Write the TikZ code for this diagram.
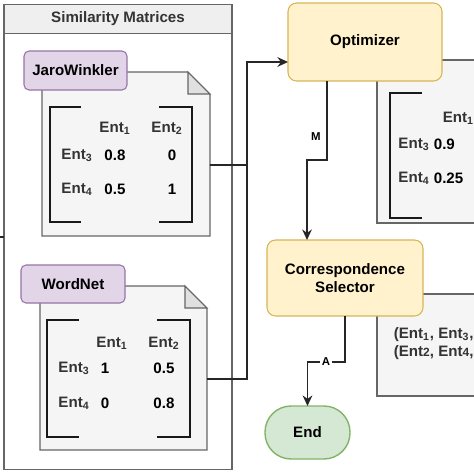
\documentclass[tikz,border=0pt]{standalone}
\usepackage{fontspec}
\setmainfont{Liberation Sans}
\usepackage{xcolor}
\usetikzlibrary{arrows.meta,positioning,calc}
\definecolor{simgray}{HTML}{666666}
\definecolor{simpanel}{HTML}{F5F5F5}
\definecolor{simhead}{HTML}{EFEFEF}
\definecolor{simfold}{HTML}{E0E0E0}
\definecolor{simpurple}{HTML}{E1D5E7}
\definecolor{simpurpleline}{HTML}{9673A6}
\definecolor{simyellow}{HTML}{FFF2CC}
\definecolor{simyellowline}{HTML}{D6B656}
\definecolor{simgreen}{HTML}{D5E8D4}
\definecolor{simgreenline}{HTML}{82B366}
\definecolor{simtext}{HTML}{333333}

\begin{document}
\begin{tikzpicture}[x=0.02cm, y=-0.02cm,
    every node/.style={font=\fontsize{8.6}{10.3}\selectfont\bfseries, outer sep=0pt},
    frame/.style={draw=simgray, line width=0.6pt},
    panel/.style={draw=simgray, fill=simpanel, line width=0.6pt},
    tag/.style={draw=simpurpleline, fill=simpurple, rounded corners=0.1cm, line width=0.6pt},
    stepbox/.style={draw=simyellowline, fill=simyellow, rounded corners=0.17cm, line width=0.6pt, align=center},
    term/.style={draw=simgreenline, fill=simgreen, line width=0.8pt},
    brack/.style={line width=1.6pt, black!90},
    ent/.style={text=simtext},
    link/.style={line width=0.8pt, black!85},
    flow/.style={link, -{Stealth[length=6pt,width=5.5pt]}},
    edgelabel/.style={font=\fontsize{6.5}{7}\selectfont\bfseries, fill=white, inner sep=1pt}]
    \useasboundingbox (0,0) rectangle (474,474);
    \clip (0,0) rectangle (474,474);

    % Container: Similarity Matrices
    \node[frame, fill=white, minimum width=4.56cm, minimum height=9.32cm] (simbox) at (118,237) {};
    \node[frame, fill=simhead, minimum width=4.56cm, minimum height=0.58cm, anchor=north, text=simtext] (simhead) at (simbox.north) {Similarity Matrices};

    % JaroWinkler document
    \node[minimum width=3.36cm, minimum height=3.28cm] (jwdoc) at (126,154) {};
    \draw[panel] (jwdoc.south west) -- (jwdoc.north west) -- ([xshift=-0.44cm]jwdoc.north east) -- ([yshift=-0.44cm]jwdoc.north east) -- (jwdoc.south east) -- cycle;
    \filldraw[frame, fill=simfold] ([xshift=-0.44cm]jwdoc.north east) -- ([xshift=-0.44cm,yshift=-0.44cm]jwdoc.north east) -- ([yshift=-0.44cm]jwdoc.north east) -- cycle;
    \node[tag, minimum width=2.06cm, minimum height=0.78cm] (jwtag) at (75.5,70.5) {JaroWinkler};

    \draw[brack] (81,107) -| (50,222) -- (81,222);
    \draw[brack] (159,107) -| (192,222) -- (159,222);
    \node[ent] (jwc1) at (115,128) {Ent\textsubscript{1}};
    \node[ent] (jwc2) at (167,128) {Ent\textsubscript{2}};
    \node[ent] (jwr3) at (77,155) {Ent\textsubscript{3}};
    \node[ent] (jwr4) at (77,189) {Ent\textsubscript{4}};
    \node (jw31) at (115,155) {0.8};
    \node (jw32) at (172,155) {0};
    \node (jw41) at (115,189) {0.5};
    \node (jw42) at (172,189) {1};

    % WordNet document
    \node[minimum width=3.34cm, minimum height=3.28cm] (wndoc) at (123.5,368) {};
    \draw[panel] (wndoc.south west) -- (wndoc.north west) -- ([xshift=-0.44cm]wndoc.north east) -- ([yshift=-0.44cm]wndoc.north east) -- (wndoc.south east) -- cycle;
    \filldraw[frame, fill=simfold] ([xshift=-0.44cm]wndoc.north east) -- ([xshift=-0.44cm,yshift=-0.44cm]wndoc.north east) -- ([yshift=-0.44cm]wndoc.north east) -- cycle;
    \node[tag, minimum width=2.08cm, minimum height=0.76cm] (wntag) at (73,284) {WordNet};

    \draw[brack] (79,320) -| (47,437) -- (79,437);
    \draw[brack] (157,320) -| (190,437) -- (157,437);
    \node[ent] (wnc1) at (112,343) {Ent\textsubscript{1}};
    \node[ent] (wnc2) at (164,343) {Ent\textsubscript{2}};
    \node[ent] (wnr3) at (74,368) {Ent\textsubscript{3}};
    \node[ent] (wnr4) at (74,403) {Ent\textsubscript{4}};
    \node (wn31) at (105,368) {1};
    \node (wn32) at (164,368) {0.5};
    \node (wn41) at (105,403) {0};
    \node (wn42) at (164,403) {0.8};

    % Optimizer output matrix
    \draw[panel] (377,60) rectangle (490,223);
    \draw[brack] (422,93) -| (390,218) -- (422,218);
    \node[ent, anchor=west] (optc1) at (437,118) {Ent\textsubscript{1}};
    \node[ent] (optr3) at (414,144) {Ent\textsubscript{3}};
    \node[ent] (optr4) at (414,178) {Ent\textsubscript{4}};
    \node[anchor=west] (opt31) at (428,144) {0.9};
    \node[anchor=west] (opt41) at (428,178) {0.25};

    % Selected correspondences
    \draw[panel] (377,294) rectangle (490,396);
    \node[ent, anchor=west, align=left] (pairs) at (388,344) {(Ent\textsubscript{1}, Ent\textsubscript{3},\\(Ent{\fontsize{6.8}{7}\selectfont 2}, Ent{\fontsize{6.8}{7}\selectfont 4},};

    % Process steps
    \node[stepbox, minimum width=3.08cm, minimum height=1.56cm] (opt) at (365,42) {Optimizer};
    \node[stepbox, minimum width=3.12cm, minimum height=1.52cm] (sel) at (345,278) {Correspondence\\Selector};
    \node[term, minimum width=1.7cm, minimum height=1.06cm, rounded corners=0.52cm] (end) at (307.5,432.5) {End};

    % Connectors
    \coordinate (inlet) at (0,237);
    \coordinate (join) at (247,165);
    \coordinate (mbend) at (317,160);
    \coordinate (abend) at (326,362);
    \draw[link, line width=1.2pt] (inlet) -- (simbox.west);
    \draw[link] ([yshift=-0.22cm]wndoc.east) -| (join);
    \draw[flow, line width=1pt] ([yshift=-0.22cm]jwdoc.east) -- (join) |- ([yshift=-0.4cm]opt.west);
    \draw[flow] ([xshift=-0.76cm]opt.south) |- (mbend) -| ([xshift=-0.76cm]sel.north);
    \node[edgelabel, fill=none] (mlab) at (316,137) {M};
    \draw[flow] (sel.south) |- (abend) -| (end.north);
    \node[edgelabel] (alab) at (abend) {A};
\end{tikzpicture}
\end{document}
